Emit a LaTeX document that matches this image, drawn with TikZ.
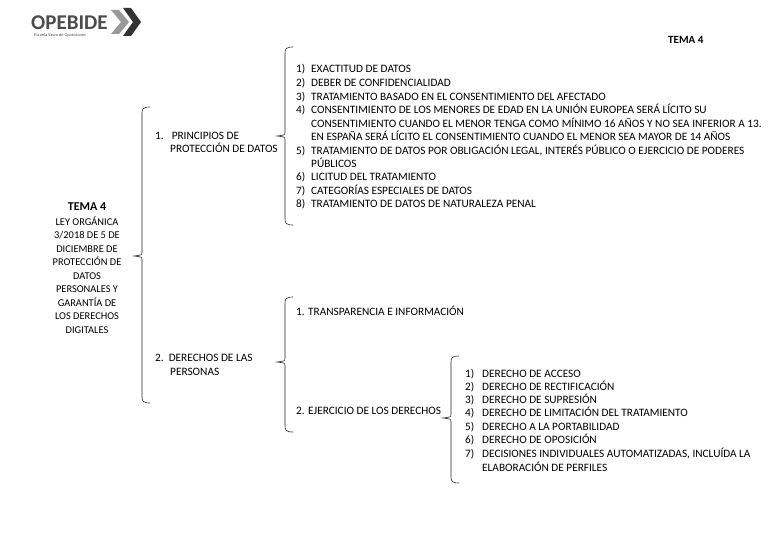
\documentclass[tikz,border=0pt]{standalone}
\usepackage{fontspec}
\setmainfont{Carlito}
\begin{document}
\begin{tikzpicture}[x=1pt,y=-1pt,
  txt/.style={anchor=base west,inner sep=0pt,font=\fontsize{11.3}{13.5}\selectfont},
  br/.style={draw=black!85,line width=0.6pt}]
\useasboundingbox (0,0) rectangle (768,543);
% logo
\node[anchor=base west,inner sep=0pt,font=\fontsize{21}{21}\bfseries\selectfont,text=black!70] (logo) at (31,30) {OPEBIDE};
\node[anchor=base west,inner sep=0pt,font=\fontsize{4.3}{4}\selectfont,text=black!70] (logosub) at (34,37) {Escuela Vasco de Oposiciones};
\fill[black!40] (111,10) -- (119,10) -- (129,22) -- (119,34) -- (111,34) -- (121,22) -- cycle;
\fill[black!80] (123,8) -- (131,8) -- (141,22) -- (131,36) -- (123,36) -- (133,22) -- cycle;
\node[txt,font=\fontsize{11}{13.5}\bfseries\selectfont] (tema) at (668,44) {TEMA 4};
% title
\node[align=center,inner sep=0pt,font=\fontsize{10.4}{13.5}\selectfont,anchor=north] (title) at (87,203)
 {{\fontsize{12}{13.5}\bfseries\selectfont TEMA 4}\\[1pt]LEY ORGÁNICA\\3/2018 DE 5 DE\\DICIEMBRE DE\\PROTECCIÓN DE\\DATOS\\PERSONALES Y\\GARANTÍA DE\\LOS DERECHOS\\DIGITALES};
% braces
\newcommand\mybrace[4]{% x, ytop, ymid, ybot
 \draw[br] (#1+11,#2) .. controls (#1+4,#2) and (#1+3,#2+2) .. (#1+3,#2+6) -- (#1+3,#3-4) .. controls (#1+3,#3-1) .. (#1-5,#3) .. controls (#1+3,#3+1) .. (#1+3,#3+4) -- (#1+3,#4-6) .. controls (#1+3,#4-2) and (#1+4,#4) .. (#1+11,#4);}
\mybrace{139}{107}{256}{403}
\mybrace{282}{47}{136}{225}
\mybrace{282}{297}{362}{432}
\mybrace{448}{356}{418}{483}
% level 1
\node[txt] (p1) at (155,139) {1.\hspace{8pt}PRINCIPIOS DE};
\node[txt] (p1b) at (170,152) {PROTECCIÓN DE DATOS};
\node[txt] (p2) at (155,361) {2.\hspace{5pt}DERECHOS DE LAS};
\node[txt] (p2b) at (170,375) {PERSONAS};
% list 1
\foreach \n/\y/\t in {1)/73/EXACTITUD DE DATOS, 2)/86/DEBER DE CONFIDENCIALIDAD, 3)/100/TRATAMIENTO BASADO EN EL CONSENTIMIENTO DEL AFECTADO, 4)/113/CONSENTIMIENTO DE LOS MENORES DE EDAD EN LA UNIÓN EUROPEA SERÁ LÍCITO SU, /127/CONSENTIMIENTO CUANDO EL MENOR TENGA COMO MÍNIMO 16 AÑOS Y NO SEA INFERIOR A 13., /140/EN ESPAÑA SERÁ LÍCITO EL CONSENTIMIENTO CUANDO EL MENOR SEA MAYOR DE 14 AÑOS, 5)/154/TRATAMIENTO DE DATOS POR OBLIGACIÓN LEGAL{,} INTERÉS PÚBLICO O EJERCICIO DE PODERES, /167/PÚBLICOS, 6)/180/LICITUD DEL TRATAMIENTO, 7)/194/CATEGORÍAS ESPECIALES DE DATOS, 8)/207/TRATAMIENTO DE DATOS DE NATURALEZA PENAL}{
  \node[txt] at (296,\y) {\n};
  \node[txt] at (311,\y) {\t};
}
% level 2
\node[txt] (t1) at (296,315) {1. TRANSPARENCIA E INFORMACIÓN};
\node[txt] (t2) at (296,414) {2. EJERCICIO DE LOS DERECHOS};
\foreach \n/\y/\t in {1)/377/DERECHO DE ACCESO, 2)/390/DERECHO DE RECTIFICACIÓN, 3)/403/DERECHO DE SUPRESIÓN, 4)/416/DERECHO DE LIMITACIÓN DEL TRATAMIENTO, 5)/430/DERECHO A LA PORTABILIDAD, 6)/443/DERECHO DE OPOSICIÓN, 7)/457/DECISIONES INDIVIDUALES AUTOMATIZADAS{,} INCLUÍDA LA, /471/ELABORACIÓN DE PERFILES}{
  \node[txt] at (465,\y) {\n};
  \node[txt] at (482,\y) {\t};
}
\end{tikzpicture}
\end{document}
